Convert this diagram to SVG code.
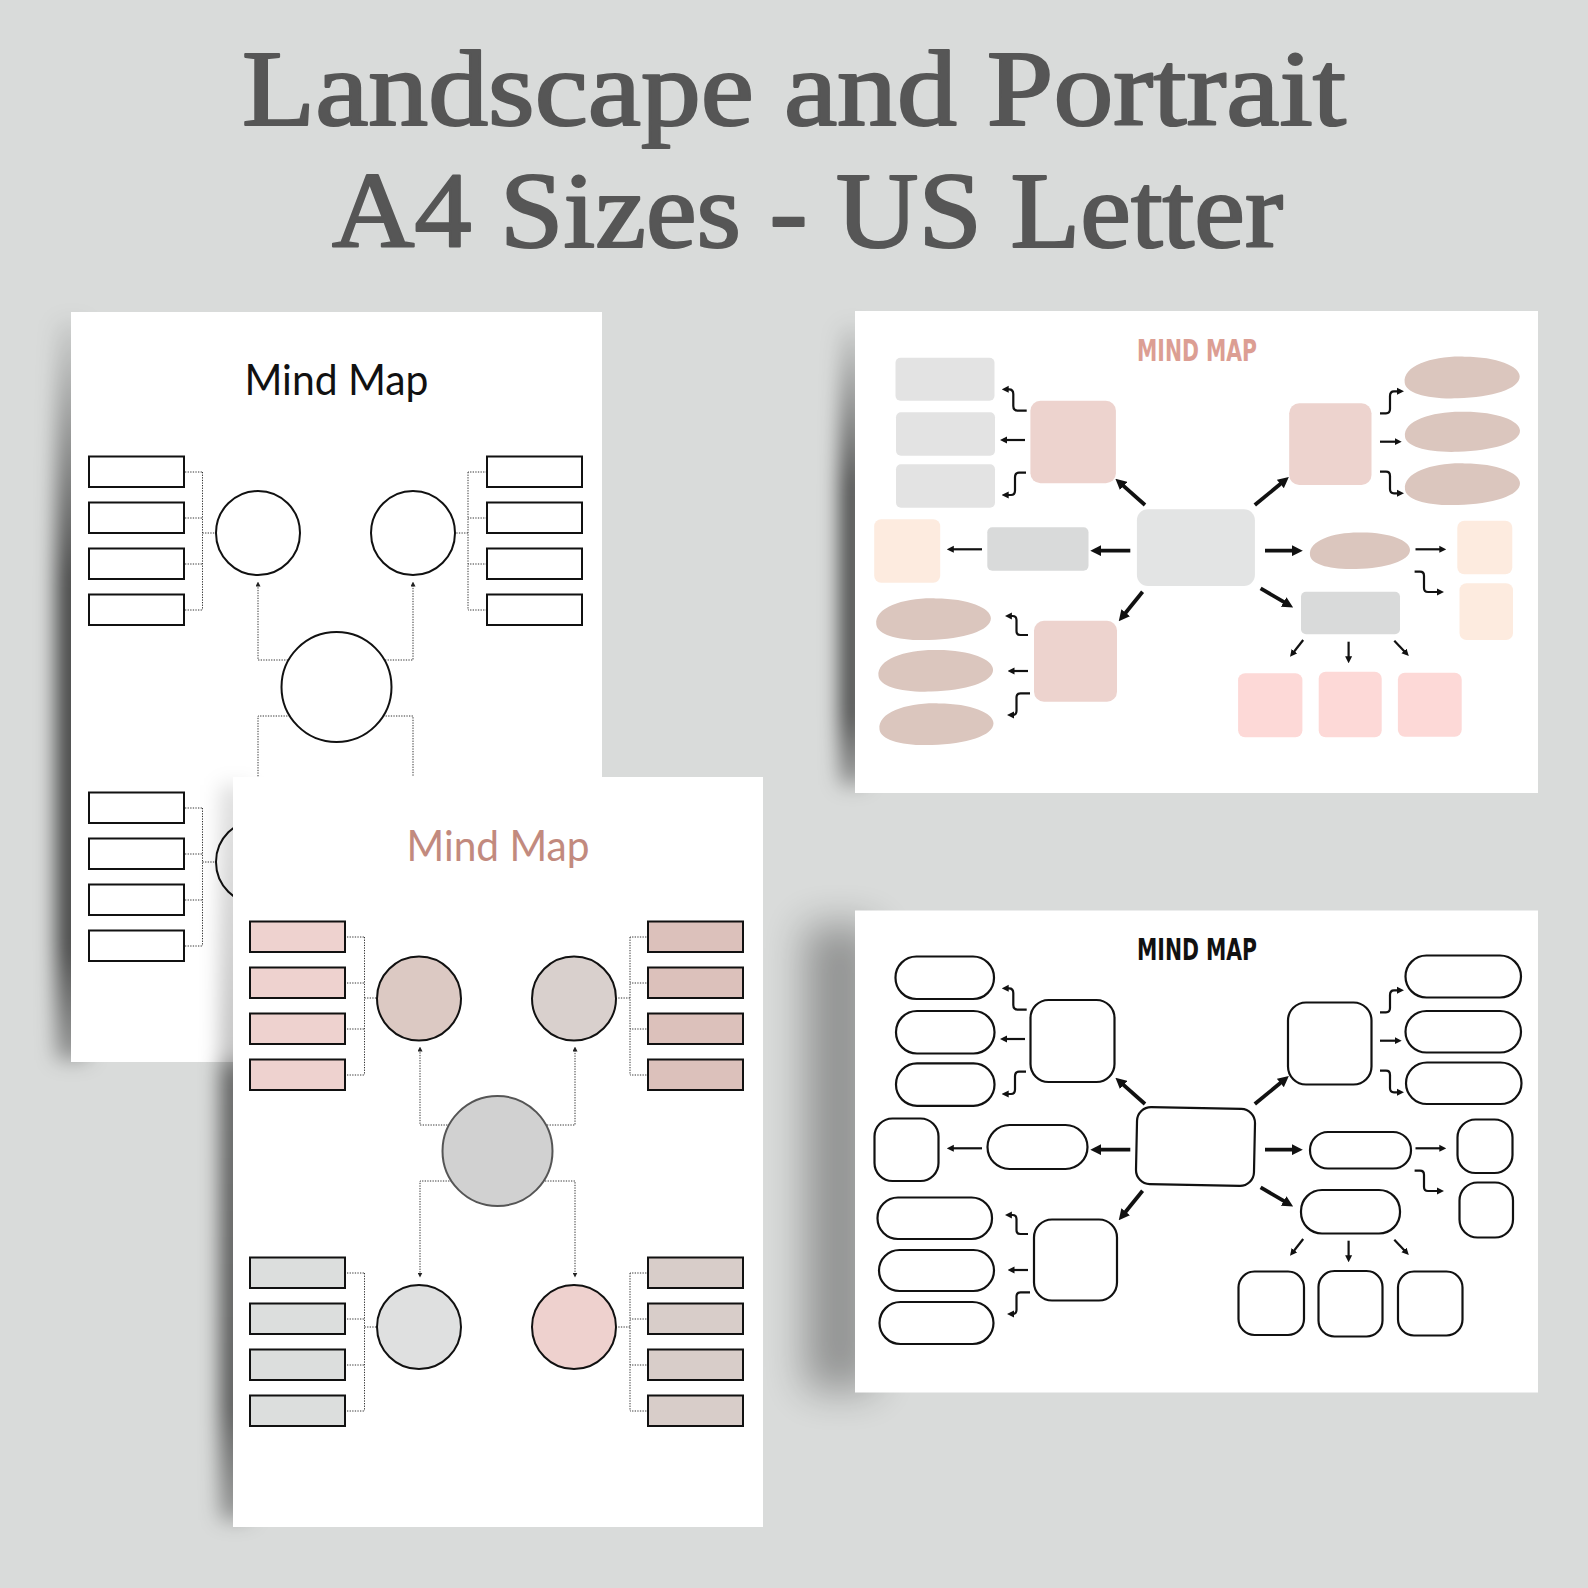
<svg xmlns="http://www.w3.org/2000/svg" xmlns:xlink="http://www.w3.org/1999/xlink" width="1588" height="1588" viewBox="0 0 1588 1588">
<defs>
<style>
.page{fill:#fff}
.ttl{font-family:"Liberation Serif","Times New Roman",serif;font-size:108px;fill:#565656;stroke:#565656;stroke-width:2.2;stroke-linejoin:round}
.pt{font-family:Lato,"Open Sans","Liberation Sans",sans-serif;font-size:42px;text-anchor:middle}
.lt{font-family:"DejaVu Sans Condensed","Liberation Sans Narrow","Liberation Sans",sans-serif;font-weight:bold;font-size:31px}
.bx{stroke:#111;stroke-width:2}
.cir{stroke:#111;stroke-width:2}
.dot{fill:none;stroke:#333;stroke-width:1;stroke-dasharray:1.3 1.3}
.arw{fill:none;stroke:#111;stroke-width:2.2;stroke-linejoin:round}
.arwT{fill:none;stroke:#111;stroke-width:3.8}
.ol{fill:#fff;stroke:#111;stroke-width:2.2}
</style>
<marker id="mDot" viewBox="0 0 10 10" refX="5" refY="5" markerWidth="5" markerHeight="5" markerUnits="userSpaceOnUse" orient="auto"><path d="M0,0L10,5L0,10z" fill="#222"/></marker>
<marker id="mThin" viewBox="0 0 10 10" refX="5" refY="5" markerWidth="7" markerHeight="8" markerUnits="userSpaceOnUse" orient="auto"><path d="M0,0L10,5L0,10z" fill="#111"/></marker>
<marker id="mThick" viewBox="0 0 10 10" refX="5" refY="5" markerWidth="11" markerHeight="11" markerUnits="userSpaceOnUse" orient="auto"><path d="M0,0L10,5L0,10z" fill="#111"/></marker>
<path id="blob" d="M-50,5 C-52,-12 -24,-21 2,-20 C30,-20 50,-11 50,-1 C50,11 26,19 -4,20 C-30,21 -49,15 -50,5Z"/>
<filter id="b10" x="-200%" y="-20%" width="500%" height="140%"><feGaussianBlur stdDeviation="10"/></filter>
<filter id="b22" x="-200%" y="-30%" width="500%" height="160%"><feGaussianBlur stdDeviation="20"/></filter>
<linearGradient id="sh1" x1="0" y1="0" x2="0" y2="1"><stop offset="0" stop-color="#000" stop-opacity="0.05"/><stop offset="0.35" stop-color="#000" stop-opacity="0.68"/><stop offset="0.85" stop-color="#000" stop-opacity="0.68"/><stop offset="1" stop-color="#000" stop-opacity="0.3"/></linearGradient>
<linearGradient id="sh2" x1="0" y1="0" x2="0" y2="1"><stop offset="0" stop-color="#000" stop-opacity="0.12"/><stop offset="0.37" stop-color="#000" stop-opacity="0.25"/><stop offset="0.39" stop-color="#000" stop-opacity="0.55"/><stop offset="0.85" stop-color="#000" stop-opacity="0.6"/><stop offset="1" stop-color="#000" stop-opacity="0.3"/></linearGradient>
</defs>

<rect width="1588" height="1588" fill="#d9dbda"/>

<g id="heading">
<text class="ttl" x="242" y="125" textLength="1104" lengthAdjust="spacingAndGlyphs">Landscape and Portrait</text>
<text class="ttl" x="332" y="247" textLength="951" lengthAdjust="spacingAndGlyphs">A4 Sizes - US Letter</text>
</g>

<!-- Portrait page 1 (black and white) -->
<rect x="56" y="320" width="32" height="740" fill="url(#sh1)" filter="url(#b10)"/>
<g id="page1" transform="translate(71,312)">
<rect class="page" width="531" height="750"/>
<g id="p1-connectors">
<path class="dot" d="M114,160H131.5M114,206H131.5M114,252H131.5M114,298H131.5M131.5,160V298M131.5,221H145"/>
<path class="dot" d="M416,160H397M416,206H397M416,252H397M416,298H397M397,160V298M397,221H384"/>
<path class="dot" d="M114,496H131.5M114,542H131.5M114,588H131.5M114,634H131.5M131.5,496V634M131.5,550H145"/>
<path class="dot" d="M416,496H397M416,542H397M416,588H397M416,634H397M397,496V634M397,550H384"/>
<path class="dot" d="M217,348H187V272" marker-end="url(#mDot)"/>
<path class="dot" d="M314,348H342V272" marker-end="url(#mDot)"/>
<path class="dot" d="M219,404H187V498" marker-end="url(#mDot)"/>
<path class="dot" d="M312,404H342V498" marker-end="url(#mDot)"/>
</g>
<g id="p1-title"><text class="pt" x="265.5" y="83" textLength="184" lengthAdjust="spacingAndGlyphs" fill="#111">Mind Map</text></g>
<g id="p1-tl-1"><rect class="bx" x="18" y="144.5" width="95" height="30.5" fill="#fff"/></g>
<g id="p1-tl-2"><rect class="bx" x="18" y="190.5" width="95" height="30.5" fill="#fff"/></g>
<g id="p1-tl-3"><rect class="bx" x="18" y="236.5" width="95" height="30.5" fill="#fff"/></g>
<g id="p1-tl-4"><rect class="bx" x="18" y="282.5" width="95" height="30.5" fill="#fff"/></g>
<g id="p1-tr-1"><rect class="bx" x="416" y="144.5" width="95" height="30.5" fill="#fff"/></g>
<g id="p1-tr-2"><rect class="bx" x="416" y="190.5" width="95" height="30.5" fill="#fff"/></g>
<g id="p1-tr-3"><rect class="bx" x="416" y="236.5" width="95" height="30.5" fill="#fff"/></g>
<g id="p1-tr-4"><rect class="bx" x="416" y="282.5" width="95" height="30.5" fill="#fff"/></g>
<g id="p1-bl-1"><rect class="bx" x="18" y="480.5" width="95" height="30.5" fill="#fff"/></g>
<g id="p1-bl-2"><rect class="bx" x="18" y="526.5" width="95" height="30.5" fill="#fff"/></g>
<g id="p1-bl-3"><rect class="bx" x="18" y="572.5" width="95" height="30.5" fill="#fff"/></g>
<g id="p1-bl-4"><rect class="bx" x="18" y="618.5" width="95" height="30.5" fill="#fff"/></g>
<g id="p1-br-1"><rect class="bx" x="416" y="480.5" width="95" height="30.5" fill="#fff"/></g>
<g id="p1-br-2"><rect class="bx" x="416" y="526.5" width="95" height="30.5" fill="#fff"/></g>
<g id="p1-br-3"><rect class="bx" x="416" y="572.5" width="95" height="30.5" fill="#fff"/></g>
<g id="p1-br-4"><rect class="bx" x="416" y="618.5" width="95" height="30.5" fill="#fff"/></g>
<g id="p1-circle-tl"><circle class="cir" cx="187" cy="221" r="42" fill="#fff"/></g>
<g id="p1-circle-tr"><circle class="cir" cx="342" cy="221" r="42" fill="#fff"/></g>
<g id="p1-circle-bl"><circle class="cir" cx="187" cy="550" r="42" fill="#fff"/></g>
<g id="p1-circle-br"><circle class="cir" cx="342" cy="550" r="42" fill="#fff"/></g>
<g id="p1-center"><circle class="cir" cx="265.5" cy="375" r="55" fill="#fff"/></g>
</g>

<!-- Portrait page 2 (colour) -->
<rect x="220" y="785" width="30" height="735" fill="url(#sh2)" filter="url(#b10)"/>
<g id="page2" transform="translate(233,777)">
<rect class="page" width="530" height="750"/>
<g id="p2-connectors">
<path class="dot" d="M114,160H131.5M114,206H131.5M114,252H131.5M114,298H131.5M131.5,160V298M131.5,221H145"/>
<path class="dot" d="M416,160H397M416,206H397M416,252H397M416,298H397M397,160V298M397,221H384"/>
<path class="dot" d="M114,496H131.5M114,542H131.5M114,588H131.5M114,634H131.5M131.5,496V634M131.5,550H145"/>
<path class="dot" d="M416,496H397M416,542H397M416,588H397M416,634H397M397,496V634M397,550H384"/>
<path class="dot" d="M217,348H187V272" marker-end="url(#mDot)"/>
<path class="dot" d="M314,348H342V272" marker-end="url(#mDot)"/>
<path class="dot" d="M219,404H187V498" marker-end="url(#mDot)"/>
<path class="dot" d="M312,404H342V498" marker-end="url(#mDot)"/>
</g>
<g id="p2-title"><text class="pt" x="265" y="84" textLength="183" lengthAdjust="spacingAndGlyphs" fill="#c28a7e">Mind Map</text></g>
<g id="p2-tl-1"><rect class="bx" x="17" y="144.5" width="95" height="30.5" fill="#eed2cf"/></g>
<g id="p2-tl-2"><rect class="bx" x="17" y="190.5" width="95" height="30.5" fill="#eed2cf"/></g>
<g id="p2-tl-3"><rect class="bx" x="17" y="236.5" width="95" height="30.5" fill="#eed2cf"/></g>
<g id="p2-tl-4"><rect class="bx" x="17" y="282.5" width="95" height="30.5" fill="#eed2cf"/></g>
<g id="p2-tr-1"><rect class="bx" x="415" y="144.5" width="95" height="30.5" fill="#dcc1bb"/></g>
<g id="p2-tr-2"><rect class="bx" x="415" y="190.5" width="95" height="30.5" fill="#dcc1bb"/></g>
<g id="p2-tr-3"><rect class="bx" x="415" y="236.5" width="95" height="30.5" fill="#dcc1bb"/></g>
<g id="p2-tr-4"><rect class="bx" x="415" y="282.5" width="95" height="30.5" fill="#dcc1bb"/></g>
<g id="p2-bl-1"><rect class="bx" x="17" y="480.5" width="95" height="30.5" fill="#dcdedd"/></g>
<g id="p2-bl-2"><rect class="bx" x="17" y="526.5" width="95" height="30.5" fill="#dcdedd"/></g>
<g id="p2-bl-3"><rect class="bx" x="17" y="572.5" width="95" height="30.5" fill="#dcdedd"/></g>
<g id="p2-bl-4"><rect class="bx" x="17" y="618.5" width="95" height="30.5" fill="#dcdedd"/></g>
<g id="p2-br-1"><rect class="bx" x="415" y="480.5" width="95" height="30.5" fill="#d8cdc9"/></g>
<g id="p2-br-2"><rect class="bx" x="415" y="526.5" width="95" height="30.5" fill="#d8cdc9"/></g>
<g id="p2-br-3"><rect class="bx" x="415" y="572.5" width="95" height="30.5" fill="#d8cdc9"/></g>
<g id="p2-br-4"><rect class="bx" x="415" y="618.5" width="95" height="30.5" fill="#d8cdc9"/></g>
<g id="p2-circle-tl"><circle class="cir" cx="186" cy="221.5" r="42" fill="#dcc9c3"/></g>
<g id="p2-circle-tr"><circle class="cir" cx="341" cy="221.5" r="42" fill="#d9d0cd"/></g>
<g id="p2-circle-bl"><circle class="cir" cx="186" cy="550" r="42" fill="#dfe0e0"/></g>
<g id="p2-circle-br"><circle class="cir" cx="341" cy="550" r="42" fill="#eed1ce"/></g>
<g id="p2-center"><circle cx="264.5" cy="374" r="55" fill="#d1d1d1" stroke="#555" stroke-width="2"/></g>
</g>

<!-- Landscape page 3 (colour) -->
<rect x="840" y="325" width="25" height="460" fill="url(#sh1)" filter="url(#b10)"/>
<g id="page3">
<rect class="page" x="855" y="311" width="683" height="482"/>
<g id="l1-title"><text class="lt" x="1137" y="360.7" textLength="120" lengthAdjust="spacingAndGlyphs" fill="#dc9e93">MIND MAP</text></g>
<g id="l1-gray-1"><rect x="895.5" y="357.7" width="99" height="43" rx="5" fill="#e3e3e3"/></g>
<g id="l1-gray-2"><rect x="896" y="412.3" width="99" height="43.4" rx="5" fill="#e3e3e3"/></g>
<g id="l1-gray-3"><rect x="896" y="464.3" width="99" height="43.4" rx="5" fill="#e3e3e3"/></g>
<g id="l1-pink-tl"><rect x="1030.4" y="400.7" width="85.5" height="82.6" rx="10" fill="#edd3ce"/></g>
<g id="l1-peach-l"><rect x="874.2" y="519.3" width="66" height="63.4" rx="7" fill="#fdebdf"/></g>
<g id="l1-gray-mid"><rect x="987.3" y="527.3" width="101.2" height="43.4" rx="5" fill="#d9dada"/></g>
<g id="l1-center"><rect x="1136.9" y="509.3" width="118" height="76.7" rx="11" fill="#e3e4e4"/></g>
<g id="l1-pink-bl"><rect x="1034" y="620.7" width="83" height="81" rx="10" fill="#edd3ce"/></g>
<g id="l1-oval-bl-1"><use xlink:href="#blob" transform="translate(933.6,619.2) scale(1.146,1.04)" fill="#dbc6be"/></g>
<g id="l1-oval-bl-2"><use xlink:href="#blob" transform="translate(935.8,670.8) scale(1.146,1.04)" fill="#dbc6be"/></g>
<g id="l1-oval-bl-3"><use xlink:href="#blob" transform="translate(936.5,724.2) scale(1.14,1.04)" fill="#dbc6be"/></g>
<g id="l1-pink-tr"><rect x="1289.2" y="403.3" width="82.3" height="81.7" rx="10" fill="#edd3ce"/></g>
<g id="l1-oval-tr-1"><use xlink:href="#blob" transform="translate(1462.2,377.5) scale(1.15,1.04)" fill="#dbc6be"/></g>
<g id="l1-oval-tr-2"><use xlink:href="#blob" transform="translate(1462.5,431.8) scale(1.15,1.0)" fill="#dbc6be"/></g>
<g id="l1-oval-tr-3"><use xlink:href="#blob" transform="translate(1462.5,484.2) scale(1.15,1.04)" fill="#dbc6be"/></g>
<g id="l1-oval-mid"><use xlink:href="#blob" transform="translate(1360,550.8) scale(1.0,0.91)" fill="#dbc6be"/></g>
<g id="l1-peach-r1"><rect x="1457.3" y="520.7" width="55" height="53.6" rx="7" fill="#fdebdf"/></g>
<g id="l1-peach-r2"><rect x="1459.5" y="583.3" width="53.5" height="56.7" rx="7" fill="#fdebdf"/></g>
<g id="l1-gray-lr"><rect x="1301" y="591.7" width="99" height="42.6" rx="5" fill="#d9dada"/></g>
<g id="l1-pink-b1"><rect x="1238.1" y="673.3" width="64.3" height="64" rx="7" fill="#fdd9d7"/></g>
<g id="l1-pink-b2"><rect x="1318.7" y="671.7" width="63" height="65.6" rx="7" fill="#fdd9d7"/></g>
<g id="l1-pink-b3"><rect x="1397.9" y="672.7" width="63.8" height="64" rx="7" fill="#fdd9d7"/></g>
</g>
<g id="l1-connectors">
<path class="arw" d="M1026.7,410.7H1018Q1013.3,410.7 1013.3,406V394Q1013.3,389.3 1009,389.3H1005.2" marker-end="url(#mThin)"/>
<path class="arw" d="M1025,440H1003.5" marker-end="url(#mThin)"/>
<path class="arw" d="M1026,472.7H1019Q1015,472.7 1015,477V490.5Q1015,495 1011,495H1005.2" marker-end="url(#mThin)"/>
<path class="arw" d="M1380,413.3H1386Q1390,413.3 1390,409V396Q1390,391.3 1394,391.3H1400.5" marker-end="url(#mThin)"/>
<path class="arw" d="M1380,441.7H1398.2" marker-end="url(#mThin)"/>
<path class="arw" d="M1380,471.7H1386Q1390,471.7 1390,476V489Q1390,493.3 1394,493.3H1400.5" marker-end="url(#mThin)"/>
<path class="arw" d="M1028,635H1020.5Q1016.5,635 1016.5,631V620Q1016.5,616 1012.5,616H1008.4" marker-end="url(#mThin)"/>
<path class="arw" d="M1028,671H1011" marker-end="url(#mThin)"/>
<path class="arw" d="M1030,693.3H1020.5Q1016.5,693.3 1016.5,697.5V711Q1016.5,715 1012.5,715H1010.5" marker-end="url(#mThin)"/>
<path class="arw" d="M982,549.3H950.3" marker-end="url(#mThin)"/>
<path class="arw" d="M1415.5,549.3H1442.8" marker-end="url(#mThin)"/>
<path class="arw" d="M1414.6,571.7H1420Q1424,571.7 1424,575.7V588Q1424,592 1428,592H1440.5" marker-end="url(#mThin)"/>
<path class="arw" d="M1303.2,640L1292.2,654" marker-end="url(#mThin)"/>
<path class="arw" d="M1348.6,641.7V659.8" marker-end="url(#mThin)"/>
<path class="arw" d="M1394.3,640.7L1406.4,653.5" marker-end="url(#mThin)"/>
<path class="arwT" d="M1145,505L1119.5,482.3" marker-end="url(#mThick)"/>
<path class="arwT" d="M1142.6,591.7L1122.2,617" marker-end="url(#mThick)"/>
<path class="arwT" d="M1254.8,505L1284.6,480.5" marker-end="url(#mThick)"/>
<path class="arwT" d="M1265,550.7H1297.3" marker-end="url(#mThick)"/>
<path class="arwT" d="M1260.6,588.3L1288.4,604.7" marker-end="url(#mThick)"/>
<path class="arwT" d="M1130.3,550.7H1095.8" marker-end="url(#mThick)"/>
</g>

<!-- Landscape page 4 (outline) -->
<rect x="805" y="925" width="70" height="465" fill="#000" opacity="0.32" filter="url(#b22)"/>
<g id="page4">
<rect class="page" x="855" y="910.5" width="683" height="482"/>
<g id="l2-title"><text class="lt" x="1137" y="959.5" textLength="120" lengthAdjust="spacingAndGlyphs" fill="#111">MIND MAP</text></g>
<g id="l2-pill-l1"><rect class="ol" x="895.5" y="956.5" width="98.5" height="42.5" rx="21"/></g>
<g id="l2-pill-l2"><rect class="ol" x="896" y="1011" width="98.5" height="42.5" rx="21"/></g>
<g id="l2-pill-l3"><rect class="ol" x="896" y="1063.3" width="98.5" height="42.5" rx="21"/></g>
<g id="l2-box-tl"><rect class="ol" x="1030.5" y="1000" width="84" height="82" rx="18"/></g>
<g id="l2-box-l"><rect class="ol" x="874.5" y="1118.5" width="64" height="62.5" rx="18"/></g>
<g id="l2-pill-mid"><rect class="ol" x="987.5" y="1125" width="100" height="44" rx="22"/></g>
<g id="l2-center"><rect class="ol" x="1136.5" y="1108" width="118" height="77" rx="14" transform="rotate(1.2 1195.5 1146.5)"/></g>
<g id="l2-box-bl"><rect class="ol" x="1034" y="1219.5" width="83" height="81" rx="18"/></g>
<g id="l2-pill-bl1"><rect class="ol" x="877.5" y="1197.5" width="114.5" height="41.5" rx="20.5"/></g>
<g id="l2-pill-bl2"><rect class="ol" x="879" y="1250" width="115" height="41" rx="20.5"/></g>
<g id="l2-pill-bl3"><rect class="ol" x="879.5" y="1302" width="114" height="42" rx="21"/></g>
<g id="l2-box-tr"><rect class="ol" x="1288" y="1002.5" width="83.5" height="82" rx="18"/></g>
<g id="l2-pill-tr1"><rect class="ol" x="1405.5" y="955.5" width="115.5" height="42" rx="21"/></g>
<g id="l2-pill-tr2"><rect class="ol" x="1405.5" y="1011" width="115.5" height="41.5" rx="21"/></g>
<g id="l2-pill-tr3"><rect class="ol" x="1406" y="1062.5" width="115.5" height="41.5" rx="21"/></g>
<g id="l2-pill-mr"><rect class="ol" x="1310" y="1132" width="101" height="36.5" rx="18"/></g>
<g id="l2-box-r1"><rect class="ol" x="1457.5" y="1119.5" width="55" height="53.5" rx="18"/></g>
<g id="l2-box-r2"><rect class="ol" x="1459.5" y="1182.5" width="53.5" height="55" rx="18"/></g>
<g id="l2-pill-lr"><rect class="ol" x="1301" y="1190" width="99" height="43.5" rx="21"/></g>
<g id="l2-box-b1"><rect class="ol" x="1238.5" y="1271.5" width="65.5" height="63.5" rx="16"/></g>
<g id="l2-box-b2"><rect class="ol" x="1318.5" y="1271" width="64" height="65.5" rx="16"/></g>
<g id="l2-box-b3"><rect class="ol" x="1398" y="1271.5" width="64.5" height="64" rx="16"/></g>
</g>
<g id="l2-connectors" transform="translate(0,599)">
<path class="arw" d="M1026.7,410.7H1018Q1013.3,410.7 1013.3,406V394Q1013.3,389.3 1009,389.3H1005.2" marker-end="url(#mThin)"/>
<path class="arw" d="M1025,440H1003.5" marker-end="url(#mThin)"/>
<path class="arw" d="M1026,472.7H1019Q1015,472.7 1015,477V490.5Q1015,495 1011,495H1005.2" marker-end="url(#mThin)"/>
<path class="arw" d="M1380,413.3H1386Q1390,413.3 1390,409V396Q1390,391.3 1394,391.3H1400.5" marker-end="url(#mThin)"/>
<path class="arw" d="M1380,441.7H1398.2" marker-end="url(#mThin)"/>
<path class="arw" d="M1380,471.7H1386Q1390,471.7 1390,476V489Q1390,493.3 1394,493.3H1400.5" marker-end="url(#mThin)"/>
<path class="arw" d="M1028,635H1020.5Q1016.5,635 1016.5,631V620Q1016.5,616 1012.5,616H1008.4" marker-end="url(#mThin)"/>
<path class="arw" d="M1028,671H1011" marker-end="url(#mThin)"/>
<path class="arw" d="M1030,693.3H1020.5Q1016.5,693.3 1016.5,697.5V711Q1016.5,715 1012.5,715H1010.5" marker-end="url(#mThin)"/>
<path class="arw" d="M982,549.3H950.3" marker-end="url(#mThin)"/>
<path class="arw" d="M1415.5,549.3H1442.8" marker-end="url(#mThin)"/>
<path class="arw" d="M1414.6,571.7H1420Q1424,571.7 1424,575.7V588Q1424,592 1428,592H1440.5" marker-end="url(#mThin)"/>
<path class="arw" d="M1303.2,640L1292.2,654" marker-end="url(#mThin)"/>
<path class="arw" d="M1348.6,641.7V659.8" marker-end="url(#mThin)"/>
<path class="arw" d="M1394.3,640.7L1406.4,653.5" marker-end="url(#mThin)"/>
<path class="arwT" d="M1145,505L1119.5,482.3" marker-end="url(#mThick)"/>
<path class="arwT" d="M1142.6,591.7L1122.2,617" marker-end="url(#mThick)"/>
<path class="arwT" d="M1254.8,505L1284.6,480.5" marker-end="url(#mThick)"/>
<path class="arwT" d="M1265,550.7H1297.3" marker-end="url(#mThick)"/>
<path class="arwT" d="M1260.6,588.3L1288.4,604.7" marker-end="url(#mThick)"/>
<path class="arwT" d="M1130.3,550.7H1095.8" marker-end="url(#mThick)"/>
</g>
</svg>
